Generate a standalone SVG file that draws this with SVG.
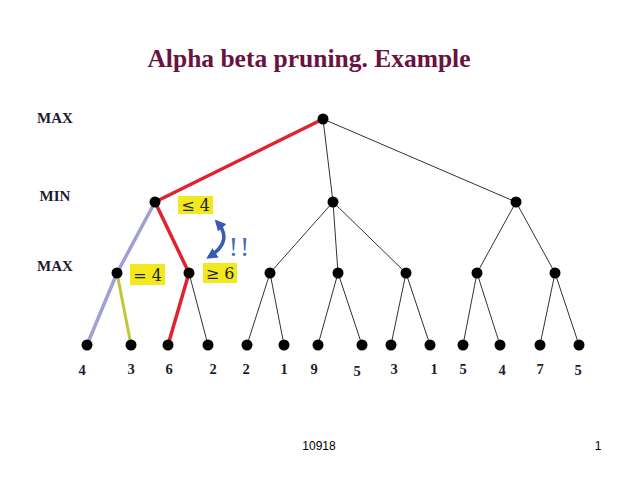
<svg xmlns="http://www.w3.org/2000/svg" width="638" height="478" viewBox="0 0 638 478">
<style>
.title{font-family:"Liberation Serif",serif;font-weight:bold;font-size:25.5px;fill:#6a1240}
.lvl{font-family:"Liberation Serif",serif;font-weight:bold;font-size:15px;fill:#1c1c2c}
.leaf{font-family:"Liberation Serif",serif;font-weight:bold;font-size:14.5px;fill:#1c1c2c;text-anchor:middle}
.box{fill:#f2e81e}
.bt{font-family:"DejaVu Serif","Liberation Serif",serif;font-size:16px;fill:#222;text-anchor:middle}
.foot{font-family:"Liberation Sans",sans-serif;font-size:12px;fill:#000}
.e{stroke:#333;stroke-width:1;fill:none}
.red{stroke:#e0232e;stroke-width:3.5;fill:none}
.lav{stroke:#a0a0d2;stroke-width:3.5;fill:none}
.yel{stroke:#c4c43a;stroke-width:3;fill:none}
.n{fill:#000}
</style>
<defs>
<marker id="ah" viewBox="0 0 10 10" refX="7" refY="5" markerWidth="3.2" markerHeight="3.2" orient="auto-start-reverse">
<path d="M0,0 L10,5 L0,10 Z" fill="#3a5bb0"/>
</marker>
</defs>
<rect width="638" height="478" fill="#fff"/>
<text class="title" x="309" y="67" text-anchor="middle">Alpha beta pruning. Example</text>
<text class="lvl" x="55" y="123" text-anchor="middle">MAX</text>
<text class="lvl" x="55" y="201" text-anchor="middle">MIN</text>
<text class="lvl" x="55" y="271" text-anchor="middle">MAX</text>
<g id="connectors">
<line class="red" x1="323" y1="119" x2="155" y2="202"/>
<line class="e" x1="323" y1="119" x2="333" y2="202"/>
<line class="e" x1="323" y1="119" x2="516" y2="202"/>
<line class="lav" x1="155" y1="202" x2="117" y2="273"/>
<line class="red" x1="155" y1="202" x2="189" y2="273"/>
<line class="e" x1="333" y1="202" x2="270" y2="273"/>
<line class="e" x1="333" y1="202" x2="338" y2="273"/>
<line class="e" x1="333" y1="202" x2="406" y2="273"/>
<line class="e" x1="516" y1="202" x2="477" y2="273"/>
<line class="e" x1="516" y1="202" x2="555" y2="273"/>
<line class="lav" x1="117" y1="273" x2="87" y2="345"/>
<line class="yel" x1="117" y1="273" x2="131" y2="345"/>
<line class="red" x1="189" y1="273" x2="168" y2="345"/>
<line class="e" x1="189" y1="273" x2="208" y2="345"/>
<line class="e" x1="270" y1="273" x2="247" y2="345"/>
<line class="e" x1="270" y1="273" x2="284" y2="345"/>
<line class="e" x1="338" y1="273" x2="318" y2="345"/>
<line class="e" x1="338" y1="273" x2="362" y2="345"/>
<line class="e" x1="406" y1="273" x2="391" y2="345"/>
<line class="e" x1="406" y1="273" x2="430" y2="345"/>
<line class="e" x1="477" y1="273" x2="463" y2="345"/>
<line class="e" x1="477" y1="273" x2="500" y2="345"/>
<line class="e" x1="555" y1="273" x2="540" y2="345"/>
<line class="e" x1="555" y1="273" x2="579" y2="345"/>
<path d="M217,222 Q234,241 209,257" stroke="#3a5bb0" stroke-width="3.5" fill="none" marker-start="url(#ah)" marker-end="url(#ah)"/>
</g>
<g id="root"><circle class="n" cx="323" cy="119" r="5.5"/></g>
<g id="min1"><circle class="n" cx="155" cy="202" r="5.5"/></g>
<g id="min2"><circle class="n" cx="333" cy="202" r="5.5"/></g>
<g id="min3"><circle class="n" cx="516" cy="202" r="5.5"/></g>
<g id="max1"><circle class="n" cx="117" cy="273" r="5.5"/></g>
<g id="max2"><circle class="n" cx="189" cy="273" r="5.5"/></g>
<g id="max3"><circle class="n" cx="270" cy="273" r="5.5"/></g>
<g id="max4"><circle class="n" cx="338" cy="273" r="5.5"/></g>
<g id="max5"><circle class="n" cx="406" cy="273" r="5.5"/></g>
<g id="max6"><circle class="n" cx="477" cy="273" r="5.5"/></g>
<g id="max7"><circle class="n" cx="555" cy="273" r="5.5"/></g>
<g id="l1"><circle class="n" cx="87" cy="345" r="5.5"/><text class="leaf" x="82" y="375">4</text></g>
<g id="l2"><circle class="n" cx="131" cy="345" r="5.5"/><text class="leaf" x="131" y="374">3</text></g>
<g id="l3"><circle class="n" cx="168" cy="345" r="5.5"/><text class="leaf" x="169" y="374">6</text></g>
<g id="l4"><circle class="n" cx="208" cy="345" r="5.5"/><text class="leaf" x="213" y="374">2</text></g>
<g id="l5"><circle class="n" cx="247" cy="345" r="5.5"/><text class="leaf" x="246" y="374">2</text></g>
<g id="l6"><circle class="n" cx="284" cy="345" r="5.5"/><text class="leaf" x="284" y="374">1</text></g>
<g id="l7"><circle class="n" cx="318" cy="345" r="5.5"/><text class="leaf" x="314" y="374">9</text></g>
<g id="l8"><circle class="n" cx="362" cy="345" r="5.5"/><text class="leaf" x="357" y="376">5</text></g>
<g id="l9"><circle class="n" cx="391" cy="345" r="5.5"/><text class="leaf" x="394" y="374">3</text></g>
<g id="l10"><circle class="n" cx="430" cy="345" r="5.5"/><text class="leaf" x="434" y="374">1</text></g>
<g id="l11"><circle class="n" cx="463" cy="345" r="5.5"/><text class="leaf" x="463" y="374">5</text></g>
<g id="l12"><circle class="n" cx="500" cy="345" r="5.5"/><text class="leaf" x="502" y="375">4</text></g>
<g id="l13"><circle class="n" cx="540" cy="345" r="5.5"/><text class="leaf" x="540" y="374">7</text></g>
<g id="l14"><circle class="n" cx="579" cy="345" r="5.5"/><text class="leaf" x="578" y="375">5</text></g>
<g id="label-le4"><rect class="box" x="178" y="196" width="35" height="18"/><text class="bt" x="195.5" y="211">≤ 4</text></g>
<g id="label-eq4"><rect class="box" x="130" y="264" width="35" height="21"/><text class="bt" x="147.5" y="280.5">= 4</text></g>
<g id="label-ge6"><rect class="box" x="203" y="263" width="34" height="20"/><text class="bt" x="220" y="279">≥ 6</text></g>
<text x="240" y="256" font-family="Liberation Serif,serif" font-size="28" fill="#4a6ab8" text-anchor="middle" letter-spacing="2">!!</text>
<text class="foot" x="319" y="450" text-anchor="middle">10918</text>
<text class="foot" x="598" y="450" text-anchor="middle">1</text>
</svg>
